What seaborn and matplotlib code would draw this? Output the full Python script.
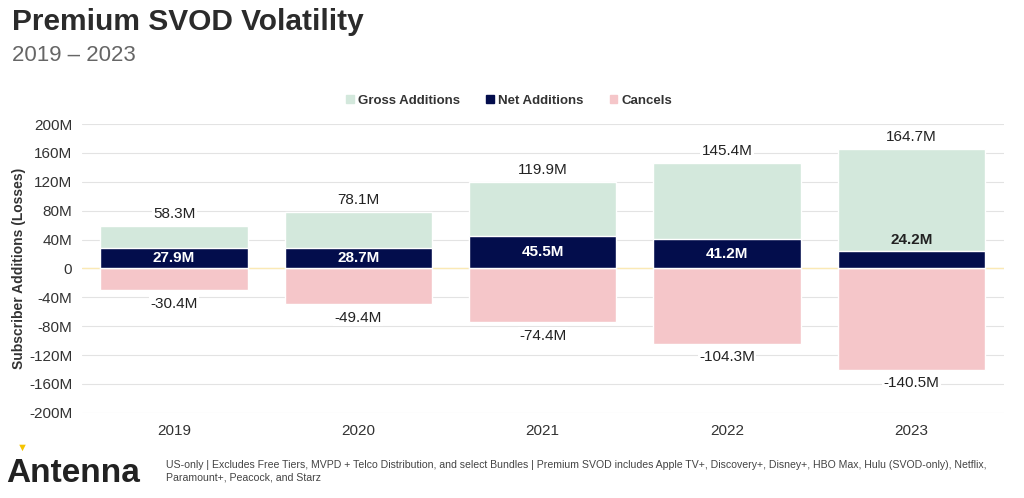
import matplotlib
matplotlib.use("Agg")
import matplotlib.pyplot as plt
from matplotlib.patches import Patch
import numpy as np
import pandas as pd
import seaborn as sns

years = ["2019", "2020", "2021", "2022", "2023"]
gross = [58.3, 78.1, 119.9, 145.4, 164.7]
net = [27.9, 28.7, 45.5, 41.2, 24.2]
cancels = [-30.4, -49.4, -74.4, -104.3, -140.5]
yticks = [-200, -160, -120, -80, -40, 0, 40, 80, 120, 160, 200]

c_gross = "#d3e8dc"
c_net = "#030d4c"
c_cancel = "#f5c6c9"

df = pd.DataFrame({"Year": years, "Gross": gross, "Net": net, "Cancels": cancels})

sns.set_style("white")
plt.rcParams["font.family"] = ["Liberation Sans", "DejaVu Sans"]

fig = plt.figure(figsize=(10.24, 4.98), dpi=100)
ax = fig.add_axes([0.08, 0.171, 0.90, 0.580])

sns.barplot(data=df, x="Year", y="Gross", color=c_gross, width=0.8, saturation=1, ax=ax, zorder=2)
sns.barplot(data=df, x="Year", y="Cancels", color=c_cancel, width=0.8, saturation=1, ax=ax, zorder=2)
sns.barplot(data=df, x="Year", y="Net", color=c_net, width=0.8, saturation=1, ax=ax, zorder=3)

ax.set_ylim(-200, 200)
ax.set_yticks(yticks)
ax.set_yticklabels([("0" if v == 0 else f"{v}M") for v in yticks], fontsize=11, color="#333333")
ax.tick_params(axis="x", labelsize=11, colors="#333333", length=0, pad=8)
ax.tick_params(axis="y", length=0, pad=7)
ax.yaxis.grid(True, color="#e3e3e3", linewidth=0.8, zorder=0)
ax.axhline(0, color="#fbe9b5", linewidth=1, zorder=1)
for s in ax.spines.values():
    s.set_visible(False)
ax.set_xlabel("")
ax.set_ylabel("Subscriber Additions (Losses)", fontsize=10, fontweight="bold", color="#333333", labelpad=2)

box = dict(facecolor="white", edgecolor="none", pad=1)
for i in range(len(years)):
    ax.text(i, gross[i] + 7, f"{gross[i]}M", ha="center", va="bottom", fontsize=11, color="#222222",
            zorder=4, bbox=box)
    ax.text(i, cancels[i] - 9, f"{cancels[i]}M", ha="center", va="top", fontsize=11, color="#222222",
            zorder=4, bbox=box)
    if net[i] >= 26:
        ax.text(i, net[i] / 2, f"{net[i]}M", ha="center", va="center", fontsize=11,
                fontweight="bold", color="white", zorder=4)
    else:
        ax.text(i, net[i] + 6, f"{net[i]}M", ha="center", va="bottom", fontsize=11,
                fontweight="bold", color="#222222", zorder=4)

handles = [Patch(color=c_gross, label="Gross Additions"),
           Patch(color=c_net, label="Net Additions"),
           Patch(color=c_cancel, label="Cancels")]
leg = fig.legend(handles=handles, loc="center", bbox_to_anchor=(0.497, 0.798), ncol=3, frameon=False,
                 handlelength=0.6, handleheight=0.6, handletextpad=0.3, columnspacing=2.0,
                 prop={"size": 9.5, "weight": "bold"})
for t in leg.get_texts():
    t.set_color("#333333")

fig.text(0.012, 0.955, "Premium SVOD Volatility", fontsize=21.5, fontweight="heavy", color="#2b2b2b",
         ha="left", va="center")
fig.text(0.012, 0.889, "2019 – 2023", fontsize=16, color="#666666", ha="left", va="center")

fig.text(0.006, 0.05, "Antenna", fontsize=24, fontweight="bold", color="#222222", ha="left", va="center")
fig.text(0.0215, 0.1, "▼", fontsize=8, color="#f5c400", ha="center", va="center")
fig.text(0.162, 0.054,
         "US-only | Excludes Free Tiers, MVPD + Telco Distribution, and select Bundles | Premium SVOD includes "
         "Apple TV+, Discovery+, Disney+, HBO Max, Hulu (SVOD-only), Netflix,\nParamount+, Peacock, and Starz",
         fontsize=7.6, color="#444444", ha="left", va="center", linespacing=1.3)

fig.savefig("out.png", dpi=100)
